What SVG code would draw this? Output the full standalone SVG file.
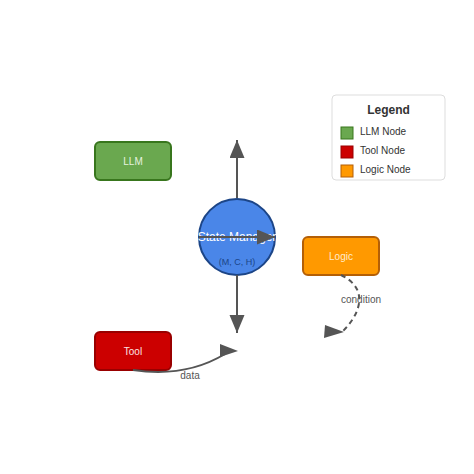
<svg xmlns="http://www.w3.org/2000/svg" width="474" height="474" viewBox="0 0 474 474">
<style>
text{font-family:"Liberation Sans",Arial,sans-serif;}
.node{stroke-width:2;}
.nl{font-size:10px;text-anchor:middle;}
.edge{fill:none;stroke:#555;stroke-width:2;}
.el{font-size:10px;fill:#555;text-anchor:middle;}
.lg{font-size:10px;fill:#333;}
</style>
<defs>
<marker id="arrow" markerUnits="userSpaceOnUse" markerWidth="20" markerHeight="16" refX="18" refY="7.5" orient="auto" viewBox="0 0 20 16">
<path d="M0,0 L18,7.5 L0,15 z" fill="#555"/>
</marker>
</defs>
<rect width="474" height="474" fill="#fff"/>
<g id="legend">
<rect x="332" y="95" width="113" height="85" rx="4" fill="#fff" stroke="#ddd" stroke-width="1"/>
<text x="388.5" y="114" font-size="12" font-weight="bold" fill="#333" text-anchor="middle">Legend</text>
<rect x="341" y="127" width="12" height="12" fill="#6aa84f" stroke="#38761d"/>
<text class="lg" x="360" y="135">LLM Node</text>
<rect x="341" y="146" width="12" height="12" fill="#cc0000" stroke="#990000"/>
<text class="lg" x="360" y="154">Tool Node</text>
<rect x="341" y="165" width="12" height="12" fill="#ff9900" stroke="#b45f06"/>
<text class="lg" x="360" y="173">Logic Node</text>
</g>
<g id="LLM">
<rect class="node" x="95" y="142" width="76" height="38" rx="5" fill="#6aa84f" stroke="#38761d"/>
<text class="nl" x="133" y="165" fill="#e6f2df">LLM</text>
</g>
<g id="Tool">
<rect class="node" x="95" y="332" width="76" height="38" rx="5" fill="#cc0000" stroke="#990000"/>
<text class="nl" x="133" y="355" fill="#fbe3e3">Tool</text>
</g>
<g id="Logic">
<rect class="node" x="303" y="237" width="76" height="38" rx="5" fill="#ff9900" stroke="#b45f06"/>
<text class="nl" x="341" y="260" fill="#ffeccc">Logic</text>
</g>
<g id="StateManager">
<circle class="node" cx="237" cy="237" r="38" fill="#4a86e8" stroke="#1c4587"/>
<text x="237" y="241" font-size="12" fill="#fff" text-anchor="middle">State Manager</text>
<text x="237" y="265" font-size="9" fill="#1c4587" text-anchor="middle">(M, C, H)</text>
</g>
<g id="connectors">
<line class="edge" x1="237" y1="198" x2="237" y2="140" marker-end="url(#arrow)"/>
<line class="edge" x1="237" y1="275" x2="237" y2="333" marker-end="url(#arrow)"/>
<line class="edge" x1="199" y1="237" x2="275" y2="237" marker-end="url(#arrow)"/>
<path class="edge" d="M133,370 Q185,378 225,354"/>
<polygon points="220,344 238,351 220,357" fill="#555"/>
<text class="el" x="190" y="379">data</text>
<path class="edge" d="M341,275 C368,288 362,312 343,331" stroke-dasharray="5,4"/>
<polygon points="325,325 344,332 324,338" fill="#555"/>
<text class="el" x="361" y="303">condition</text>
</g>
</svg>
